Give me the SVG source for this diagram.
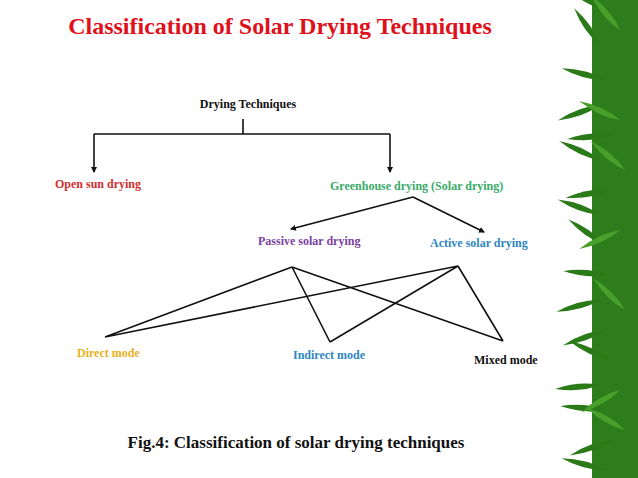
<svg xmlns="http://www.w3.org/2000/svg" width="638" height="478" viewBox="0 0 638 478">
<style>
text{font-family:"Liberation Serif",serif;font-weight:bold}
.n{font-size:12px}
.c{stroke:#111;stroke-width:1.6;fill:none}
.lf{fill:#2a7a18}
.lf2{fill:#47a02a}
</style>
<defs>
<marker id="a" markerWidth="6" markerHeight="6" refX="5" refY="3" orient="auto" markerUnits="userSpaceOnUse"><path d="M0,0L6,3L0,6z" fill="#111"/></marker>
<path id="leaf" d="M0,0 Q-20,-6 -45,0 Q-20,6 0,0z"/>
</defs>
<rect width="638" height="478" fill="#fff"/>
<g id="bamboo">
<rect x="592" y="0" width="46" height="478" fill="#2d7d1c"/>
<g class="lf">
<use href="#leaf" transform="translate(605,10) rotate(30)"/>
<use href="#leaf" transform="translate(600,45) rotate(55)"/>
<use href="#leaf" transform="translate(605,80) rotate(15)"/>
<use href="#leaf" transform="translate(600,105) rotate(-20)"/>
<use href="#leaf" transform="translate(612,135) rotate(-5)"/>
<use href="#leaf" transform="translate(600,160) rotate(25)"/>
<use href="#leaf" transform="translate(610,190) rotate(-10)"/>
<use href="#leaf" transform="translate(600,215) rotate(20)"/>
<use href="#leaf" transform="translate(605,245) rotate(35)"/>
<use href="#leaf" transform="translate(608,275) rotate(5)"/>
<use href="#leaf" transform="translate(600,300) rotate(-15)"/>
<use href="#leaf" transform="translate(605,330) rotate(-20)"/>
<use href="#leaf" transform="translate(610,360) rotate(25)"/>
<use href="#leaf" transform="translate(600,385) rotate(-5)"/>
<use href="#leaf" transform="translate(605,410) rotate(5)"/>
<use href="#leaf" transform="translate(612,440) rotate(-20)"/>
<use href="#leaf" transform="translate(605,470) rotate(15)"/>
</g>
<g class="lf2">
<use href="#leaf" transform="translate(620,30) rotate(50)"/>
<use href="#leaf" transform="translate(620,120) rotate(25)"/>
<use href="#leaf" transform="translate(625,170) rotate(40)"/>
<use href="#leaf" transform="translate(620,230) rotate(-25)"/>
<use href="#leaf" transform="translate(625,310) rotate(45)"/>
<use href="#leaf" transform="translate(620,390) rotate(-30)"/>
<use href="#leaf" transform="translate(625,430) rotate(30)"/>
</g>
</g>
<text x="280" y="34" font-size="24" fill="#e0101a" text-anchor="middle">Classification of Solar Drying Techniques</text>
<g id="connectors" class="c">
<path d="M243,119V134M94,134H390"/>
<path d="M94,134V172" marker-end="url(#a)"/>
<path d="M390,134V172" marker-end="url(#a)"/>
<path d="M413,197L291,229" marker-end="url(#a)"/>
<path d="M413,197L484,232" marker-end="url(#a)"/>
<path d="M292,267L105,337M292,267L330,342M292,267L503,341M458,266L105,337M458,266L330,342M458,266L503,341"/>
</g>
<g id="root"><text class="n" x="248" y="108" text-anchor="middle" fill="#111">Drying Techniques</text></g>
<g id="open"><text class="n" x="55" y="188" fill="#d03030">Open sun drying</text></g>
<g id="greenhouse"><text class="n" x="330" y="190" fill="#3aaa6a">Greenhouse drying (Solar drying)</text></g>
<g id="passive"><text class="n" x="258" y="245" fill="#7b3fa0">Passive solar drying</text></g>
<g id="active"><text class="n" x="430" y="247" fill="#2e86c1">Active solar drying</text></g>
<g id="direct"><text class="n" x="77" y="357" fill="#e8b020">Direct mode</text></g>
<g id="indirect"><text class="n" x="293" y="359" fill="#2e86c1">Indirect mode</text></g>
<g id="mixed"><text class="n" x="474" y="364" fill="#111">Mixed mode</text></g>
<text x="296" y="448" font-size="17" fill="#111" text-anchor="middle">Fig.4: Classification of solar drying techniques</text>
</svg>
